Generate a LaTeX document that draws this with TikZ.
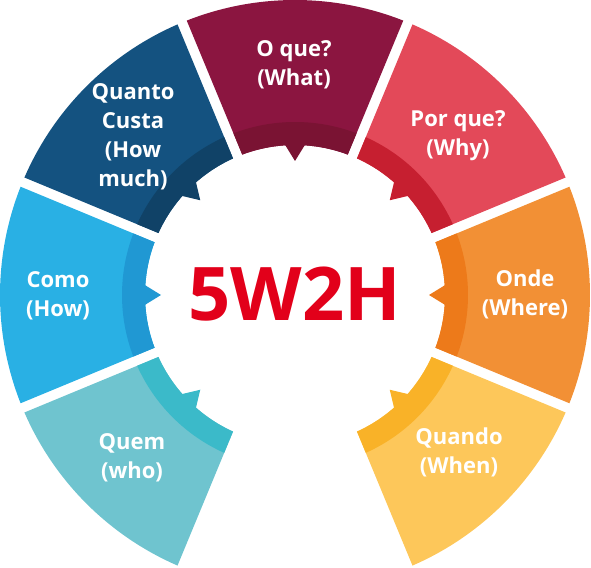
\documentclass[tikz,border=0pt]{standalone}
\usepackage{fontspec}
\setmainfont{Open Sans}
\definecolor{oqueA}{HTML}{8B1540}
\definecolor{oqueB}{HTML}{7A1333}
\definecolor{porA}{HTML}{E34959}
\definecolor{porB}{HTML}{C61F30}
\definecolor{ondeA}{HTML}{F29035}
\definecolor{ondeB}{HTML}{ED7A1A}
\definecolor{quandoA}{HTML}{FDC75A}
\definecolor{quandoB}{HTML}{F9B228}
\definecolor{quemA}{HTML}{6FC4CF}
\definecolor{quemB}{HTML}{3BBAC9}
\definecolor{comoA}{HTML}{29B0E4}
\definecolor{comoB}{HTML}{2098D3}
\definecolor{quantoA}{HTML}{145280}
\definecolor{quantoB}{HTML}{104267}
\definecolor{titred}{HTML}{E2001A}
\newcommand\wseg[3]{%
  \pgfmathsetmacro\oA{#1-22.5+0.97}\pgfmathsetmacro\oB{#1+22.5-0.97}%
  \pgfmathsetmacro\iA{#1-22.5+1.91}\pgfmathsetmacro\iB{#1+22.5-1.91}%
  \pgfmathsetmacro\bA{#1-22.5+1.66}\pgfmathsetmacro\bB{#1+22.5-1.66}%
  \pgfmathsetmacro\tA{#1-3.9}\pgfmathsetmacro\tB{#1+3.9}%
  \fill[#2] (\oA:295pt) arc[start angle=\oA, end angle=\oB, radius=295pt]
     -- (\iB:150pt) arc[start angle=\iB, end angle=\iA, radius=150pt] -- cycle;
  \fill[#3] (\bA:173pt) arc[start angle=\bA, end angle=\bB, radius=173pt]
     -- (\iB:150pt) arc[start angle=\iB, end angle=\iA, radius=150pt] -- cycle;
  \fill[#3] (\tA:151pt) -- (#1:134pt) -- (\tB:151pt) -- cycle;
}
\begin{document}
\begin{tikzpicture}[x=1pt,y=1pt,
  lbl/.style={text=white,font=\bfseries\fontsize{22}{29}\selectfont,align=center,inner sep=0pt},
  titlelbl/.style={text=titred,font=\bfseries\fontsize{74}{80}\selectfont,inner sep=0pt}]
\useasboundingbox (0,0) rectangle (591,567);
\begin{scope}[shift={(295,272)}]
  \wseg{90}{oqueA}{oqueB}
  \wseg{45}{porA}{porB}
  \wseg{0}{ondeA}{ondeB}
  \wseg{-45}{quandoA}{quandoB}
  \wseg{225}{quemA}{quemB}
  \wseg{180}{comoA}{comoB}
  \wseg{135}{quantoA}{quantoB}
\end{scope}
\node[lbl] (oque) at (294,502.5) {O que?\\(What)};
\node[lbl] (porque) at (458,431.5) {Por que?\\(Why)};
\node[lbl] (onde) at (525,273) {Onde\\(Where)};
\node[lbl] (quando) at (459,114.5) {Quando\\(When)};
\node[lbl] (quem) at (132,109.5) {Quem\\(who)};
\node[lbl] (como) at (58,271.5) {Como\\(How)};
\node[lbl] (quanto) at (133,430.5) {Quanto\\Custa\\(How\\much)};
\node[titlelbl] (title) at (295,272.5) {5W2H};
\end{tikzpicture}
\end{document}
